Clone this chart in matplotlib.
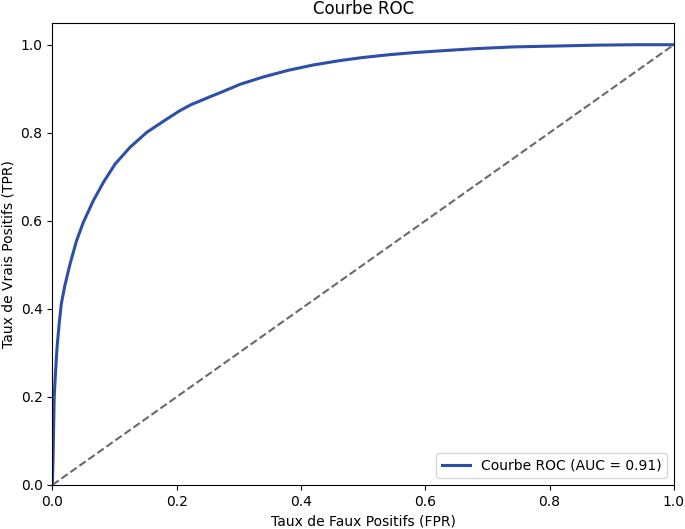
import matplotlib
matplotlib.use("Agg")
import matplotlib.pyplot as plt

fpr = [0.0, 0.001, 0.002, 0.003, 0.005, 0.0076, 0.011, 0.0145, 0.020, 0.0285,
       0.039, 0.050, 0.066, 0.082, 0.101, 0.125, 0.152, 0.184, 0.205, 0.222,
       0.254, 0.270, 0.302, 0.340, 0.380, 0.420, 0.463, 0.500, 0.540, 0.581,
       0.624, 0.680, 0.742, 0.810, 0.876, 0.940, 1.0]
tpr = [0.0, 0.05, 0.125, 0.20, 0.253, 0.313, 0.366, 0.412, 0.452, 0.502,
       0.555, 0.597, 0.646, 0.687, 0.729, 0.767, 0.801, 0.831, 0.850, 0.863,
       0.882, 0.891, 0.910, 0.927, 0.942, 0.954, 0.964, 0.971, 0.977, 0.982,
       0.986, 0.991, 0.995, 0.997, 0.999, 1.0, 1.0]
diag = [0.0, 1.0]
auc_label = "Courbe ROC (AUC = 0.91)"

fig = plt.figure(figsize=(6.85, 5.29), dpi=100)
ax = fig.add_axes([0.0764, 0.0832, 0.9073, 0.8739])
ax.plot(fpr, tpr, color="#2c4fa8", lw=2.2, label=auc_label,
        solid_joinstyle="round")
ax.plot(diag, diag, color="dimgray", lw=1.5, linestyle="--")
ax.set_xlim(0.0, 1.0)
ax.set_ylim(0.0, 1.05)
ax.set_xlabel("Taux de Faux Positifs (FPR)")
ax.set_ylabel("Taux de Vrais Positifs (TPR)")
ax.set_title("Courbe ROC")
ax.legend(loc="lower right")
fig.savefig("out.png", dpi=100)
